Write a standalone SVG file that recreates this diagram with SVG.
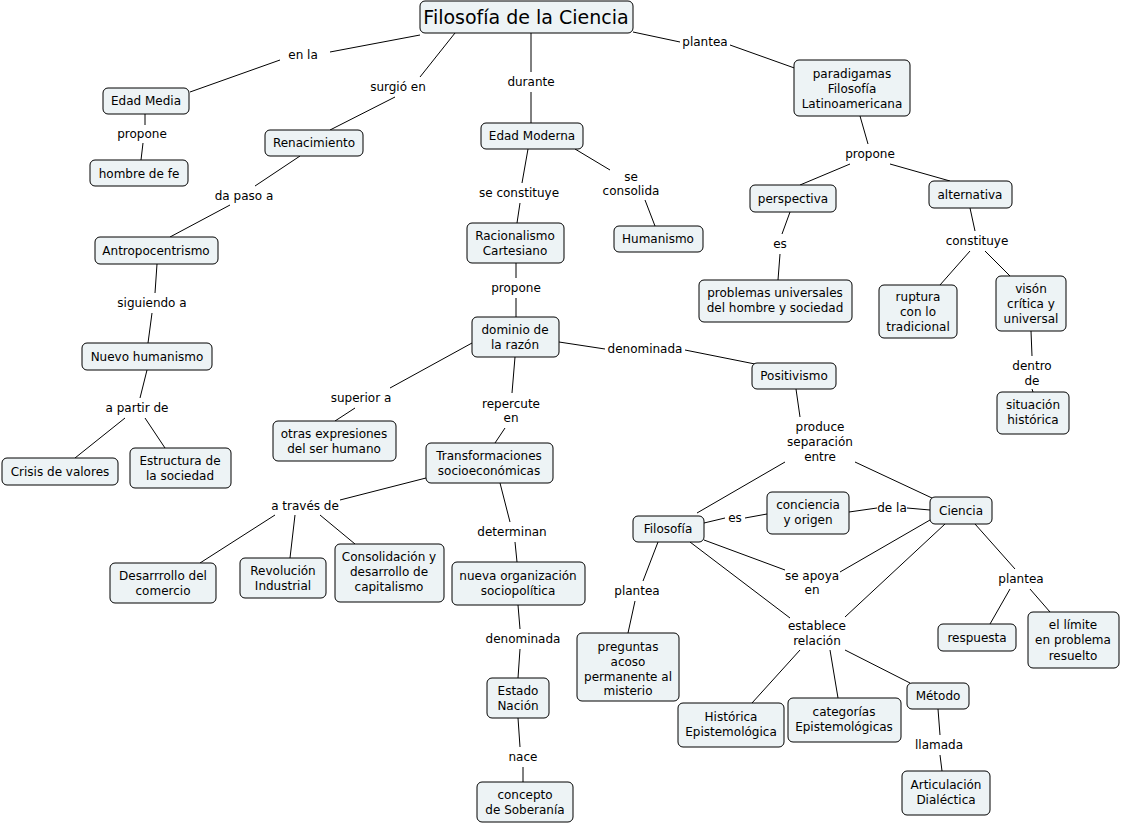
<svg xmlns="http://www.w3.org/2000/svg" width="1121" height="825" viewBox="0 0 1121 825">
<style>
.n rect{fill:#edf3f5;stroke:#000;stroke-width:1}
text{font-family:"DejaVu Sans",Verdana,sans-serif;font-size:12px;fill:#000;text-anchor:middle}
.c line{stroke:#000;stroke-width:1}
.t{fill:#fff}
</style>
<rect width="1121" height="825" fill="#fff"/>
<g class="c">
<line x1="420" y1="35" x2="330" y2="52"/><line x1="280" y1="60" x2="190" y2="92"/>
<line x1="455" y1="33" x2="420" y2="77"/><line x1="395" y1="97" x2="330" y2="130"/>
<line x1="531" y1="33" x2="531" y2="72"/><line x1="531" y1="92" x2="531" y2="123"/>
<line x1="633" y1="32" x2="680" y2="42"/><line x1="730" y1="45" x2="800" y2="70"/>
<line x1="145" y1="114" x2="145" y2="125"/><line x1="143" y1="143" x2="141" y2="160"/>
<line x1="300" y1="156" x2="255" y2="186"/><line x1="230" y1="205" x2="170" y2="237"/>
<line x1="157" y1="264" x2="155" y2="293"/><line x1="152" y1="313" x2="148" y2="343"/>
<line x1="147" y1="370" x2="140" y2="398"/><line x1="125" y1="418" x2="75" y2="458"/><line x1="145" y1="418" x2="165" y2="448"/>
<line x1="528" y1="149" x2="522" y2="183"/><line x1="520" y1="203" x2="517" y2="223"/>
<line x1="575" y1="149" x2="610" y2="170"/><line x1="645" y1="200" x2="655" y2="226"/>
<line x1="516" y1="263" x2="516" y2="278"/><line x1="516" y1="298" x2="516" y2="317"/>
<line x1="472" y1="343" x2="390" y2="388"/><line x1="355" y1="408" x2="335" y2="421"/>
<line x1="515" y1="357" x2="512" y2="393"/><line x1="505" y1="428" x2="495" y2="443"/>
<line x1="559" y1="342" x2="605" y2="349"/><line x1="685" y1="350" x2="760" y2="365"/>
<line x1="426" y1="478" x2="340" y2="500"/><line x1="275" y1="515" x2="200" y2="563"/><line x1="295" y1="515" x2="290" y2="558"/><line x1="320" y1="515" x2="355" y2="544"/>
<line x1="500" y1="483" x2="510" y2="522"/><line x1="515" y1="542" x2="517" y2="562"/>
<line x1="518" y1="605" x2="520" y2="629"/><line x1="520" y1="649" x2="518" y2="678"/>
<line x1="518" y1="718" x2="520" y2="747"/><line x1="523" y1="767" x2="523" y2="782"/>
<line x1="860" y1="116" x2="868" y2="144"/><line x1="850" y1="164" x2="800" y2="185"/><line x1="890" y1="164" x2="950" y2="181"/>
<line x1="790" y1="212" x2="782" y2="234"/><line x1="780" y1="254" x2="778" y2="280"/>
<line x1="970" y1="208" x2="975" y2="231"/><line x1="970" y1="251" x2="940" y2="285"/><line x1="985" y1="251" x2="1010" y2="276"/>
<line x1="1031" y1="331" x2="1032" y2="356"/><line x1="1032" y1="389" x2="1033" y2="392"/>
<line x1="796" y1="389" x2="800" y2="417"/><line x1="785" y1="462" x2="697" y2="513"/><line x1="855" y1="462" x2="932" y2="498"/>
<line x1="704" y1="523" x2="725" y2="518"/><line x1="745" y1="518" x2="767" y2="514"/>
<line x1="849" y1="512" x2="877" y2="508"/><line x1="907" y1="508" x2="930" y2="510"/>
<line x1="658" y1="542" x2="643" y2="581"/><line x1="635" y1="601" x2="628" y2="633"/>
<line x1="704" y1="540" x2="785" y2="570"/><line x1="930" y1="520" x2="840" y2="572"/>
<line x1="690" y1="542" x2="790" y2="618"/><line x1="945" y1="524" x2="845" y2="617"/>
<line x1="800" y1="650" x2="752" y2="703"/><line x1="830" y1="650" x2="838" y2="698"/><line x1="845" y1="650" x2="910" y2="683"/>
<line x1="938" y1="709" x2="940" y2="735"/><line x1="940" y1="755" x2="942" y2="771"/>
<line x1="975" y1="524" x2="1015" y2="569"/><line x1="1010" y1="589" x2="990" y2="624"/><line x1="1030" y1="589" x2="1050" y2="612"/>
</g>
<g id="labels">
<text x="303" y="59">en la</text><text x="398" y="91">surgió en</text><text x="531" y="86">durante</text><text x="705" y="46">plantea</text>
<text x="142" y="138">propone</text><text x="244" y="200">da paso a</text><text x="152" y="307">siguiendo a</text><text x="137" y="412">a partir de</text>
<text x="519" y="197">se constituye</text><text x="631" y="181">se</text><text x="631" y="195">consolida</text><text x="516" y="292">propone</text>
<text x="361" y="402">superior a</text><text x="511" y="408">repercute</text><text x="511" y="422">en</text><text x="645" y="353">denominada</text>
<text x="305" y="510">a través de</text><text x="512" y="536">determinan</text><text x="523" y="643">denominada</text><text x="523" y="761">nace</text>
<text x="870" y="158">propone</text><text x="780" y="248">es</text><text x="977" y="245">constituye</text><text x="1032" y="370">dentro</text><text x="1032" y="385">de</text>
<text x="820" y="431">produce</text><text x="820" y="446">separación</text><text x="820" y="461">entre</text>
<text x="735" y="522">es</text><text x="892" y="512">de la</text><text x="812" y="580">se apoya</text><text x="812" y="594">en</text>
<text x="637" y="595">plantea</text><text x="1021" y="583">plantea</text><text x="817" y="630">establece</text><text x="817" y="645">relación</text><text x="939" y="749">llamada</text>
</g>
<g id="title" class="n"><rect x="420" y="1" width="213" height="32" rx="5"/><text x="526" y="24" style="font-size:19px">Filosofía de la Ciencia</text></g>
<g id="edadmedia" class="n"><rect x="103" y="88" width="86" height="26" rx="5"/><text x="146" y="105">Edad Media</text></g>
<g id="hombre" class="n"><rect x="90" y="160" width="98" height="26" rx="5"/><text x="139" y="178">hombre de fe</text></g>
<g id="renacimiento" class="n"><rect x="265" y="130" width="98" height="26" rx="5"/><text x="314" y="147">Renacimiento</text></g>
<g id="antropo" class="n"><rect x="95" y="237" width="123" height="27" rx="5"/><text x="156" y="255">Antropocentrismo</text></g>
<g id="nuevohum" class="n"><rect x="82" y="343" width="130" height="27" rx="5"/><text x="147" y="361">Nuevo humanismo</text></g>
<g id="crisis" class="n"><rect x="2" y="458" width="116" height="27" rx="5"/><text x="60" y="476">Crisis de valores</text></g>
<g id="estructura" class="n"><rect x="130" y="448" width="101" height="40" rx="5"/><text x="180" y="465">Estructura de</text><text x="180" y="480">la sociedad</text></g>
<g id="edadmoderna" class="n"><rect x="481" y="123" width="102" height="26" rx="5"/><text x="532" y="140">Edad Moderna</text></g>
<g id="racionalismo" class="n"><rect x="467" y="223" width="97" height="40" rx="5"/><text x="515" y="240">Racionalismo</text><text x="515" y="255">Cartesiano</text></g>
<g id="humanismo" class="n"><rect x="614" y="226" width="89" height="26" rx="5"/><text x="658" y="243">Humanismo</text></g>
<g id="dominio" class="n"><rect x="472" y="317" width="87" height="40" rx="5"/><text x="515" y="334">dominio de</text><text x="515" y="349">la razón</text></g>
<g id="otras" class="n"><rect x="273" y="421" width="123" height="40" rx="5"/><text x="334" y="438">otras expresiones</text><text x="334" y="453">del ser humano</text></g>
<g id="transf" class="n"><rect x="426" y="443" width="127" height="40" rx="5"/><text x="489" y="460">Transformaciones</text><text x="489" y="475">socioeconómicas</text></g>
<g id="comercio" class="n"><rect x="110" y="563" width="106" height="40" rx="5"/><text x="163" y="580">Desarrrollo del</text><text x="163" y="595">comercio</text></g>
<g id="revolucion" class="n"><rect x="240" y="558" width="86" height="40" rx="5"/><text x="283" y="575">Revolución</text><text x="283" y="590">Industrial</text></g>
<g id="consolidacion" class="n"><rect x="335" y="544" width="109" height="58" rx="5"/><text x="389" y="561">Consolidación y</text><text x="389" y="576">desarrollo de</text><text x="389" y="591">capitalismo</text></g>
<g id="nuevaorg" class="n"><rect x="452" y="562" width="133" height="43" rx="5"/><text x="518" y="580">nueva organización</text><text x="518" y="595">sociopolítica</text></g>
<g id="estado" class="n"><rect x="487" y="678" width="62" height="40" rx="5"/><text x="518" y="695">Estado</text><text x="518" y="710">Nación</text></g>
<g id="soberania" class="n"><rect x="477" y="782" width="96" height="40" rx="5"/><text x="525" y="799">concepto</text><text x="525" y="814">de Soberanía</text></g>
<g id="paradigmas" class="n"><rect x="794" y="60" width="116" height="56" rx="5"/><text x="852" y="78">paradigamas</text><text x="852" y="93">Filosofía</text><text x="852" y="108">Latinoamericana</text></g>
<g id="perspectiva" class="n"><rect x="750" y="185" width="86" height="27" rx="5"/><text x="793" y="203">perspectiva</text></g>
<g id="alternativa" class="n"><rect x="929" y="181" width="83" height="27" rx="5"/><text x="970" y="199">alternativa</text></g>
<g id="problemas" class="n"><rect x="699" y="280" width="153" height="42" rx="5"/><text x="775" y="297">problemas universales</text><text x="775" y="312">del hombre y sociedad</text></g>
<g id="ruptura" class="n"><rect x="879" y="285" width="78" height="53" rx="5"/><text x="918" y="301">ruptura</text><text x="918" y="316">con lo</text><text x="918" y="331">tradicional</text></g>
<g id="vision" class="n"><rect x="996" y="276" width="70" height="55" rx="5"/><text x="1031" y="293">visón</text><text x="1031" y="308">crítica y</text><text x="1031" y="323">universal</text></g>
<g id="situacion" class="n"><rect x="997" y="392" width="72" height="42" rx="5"/><text x="1033" y="409">situación</text><text x="1033" y="424">histórica</text></g>
<g id="positivismo" class="n"><rect x="752" y="363" width="84" height="26" rx="5"/><text x="794" y="380">Positivismo</text></g>
<g id="filosofia" class="n"><rect x="633" y="516" width="71" height="26" rx="5"/><text x="668" y="533">Filosofía</text></g>
<g id="conciencia" class="n"><rect x="767" y="492" width="82" height="42" rx="5"/><text x="808" y="509">conciencia</text><text x="808" y="524">y origen</text></g>
<g id="ciencia" class="n"><rect x="930" y="497" width="62" height="27" rx="5"/><text x="961" y="515">Ciencia</text></g>
<g id="preguntas" class="n"><rect x="577" y="633" width="102" height="68" rx="5"/><text x="628" y="651">preguntas</text><text x="628" y="666">acoso</text><text x="628" y="681">permanente al</text><text x="628" y="695">misterio</text></g>
<g id="respuesta" class="n"><rect x="938" y="624" width="78" height="27" rx="5"/><text x="977" y="642">respuesta</text></g>
<g id="limite" class="n"><rect x="1028" y="612" width="91" height="56" rx="5"/><text x="1073" y="629">el límite</text><text x="1073" y="644">en problema</text><text x="1073" y="660">resuelto</text></g>
<g id="historica" class="n"><rect x="678" y="703" width="106" height="44" rx="5"/><text x="731" y="721">Histórica</text><text x="731" y="736">Epistemológica</text></g>
<g id="categorias" class="n"><rect x="788" y="698" width="113" height="44" rx="5"/><text x="844" y="716">categorías</text><text x="844" y="731">Epistemológicas</text></g>
<g id="metodo" class="n"><rect x="907" y="683" width="62" height="26" rx="5"/><text x="938" y="700">Método</text></g>
<g id="articulacion" class="n"><rect x="902" y="771" width="88" height="44" rx="5"/><text x="946" y="789">Articulación</text><text x="946" y="804">Dialéctica</text></g>
</svg>
